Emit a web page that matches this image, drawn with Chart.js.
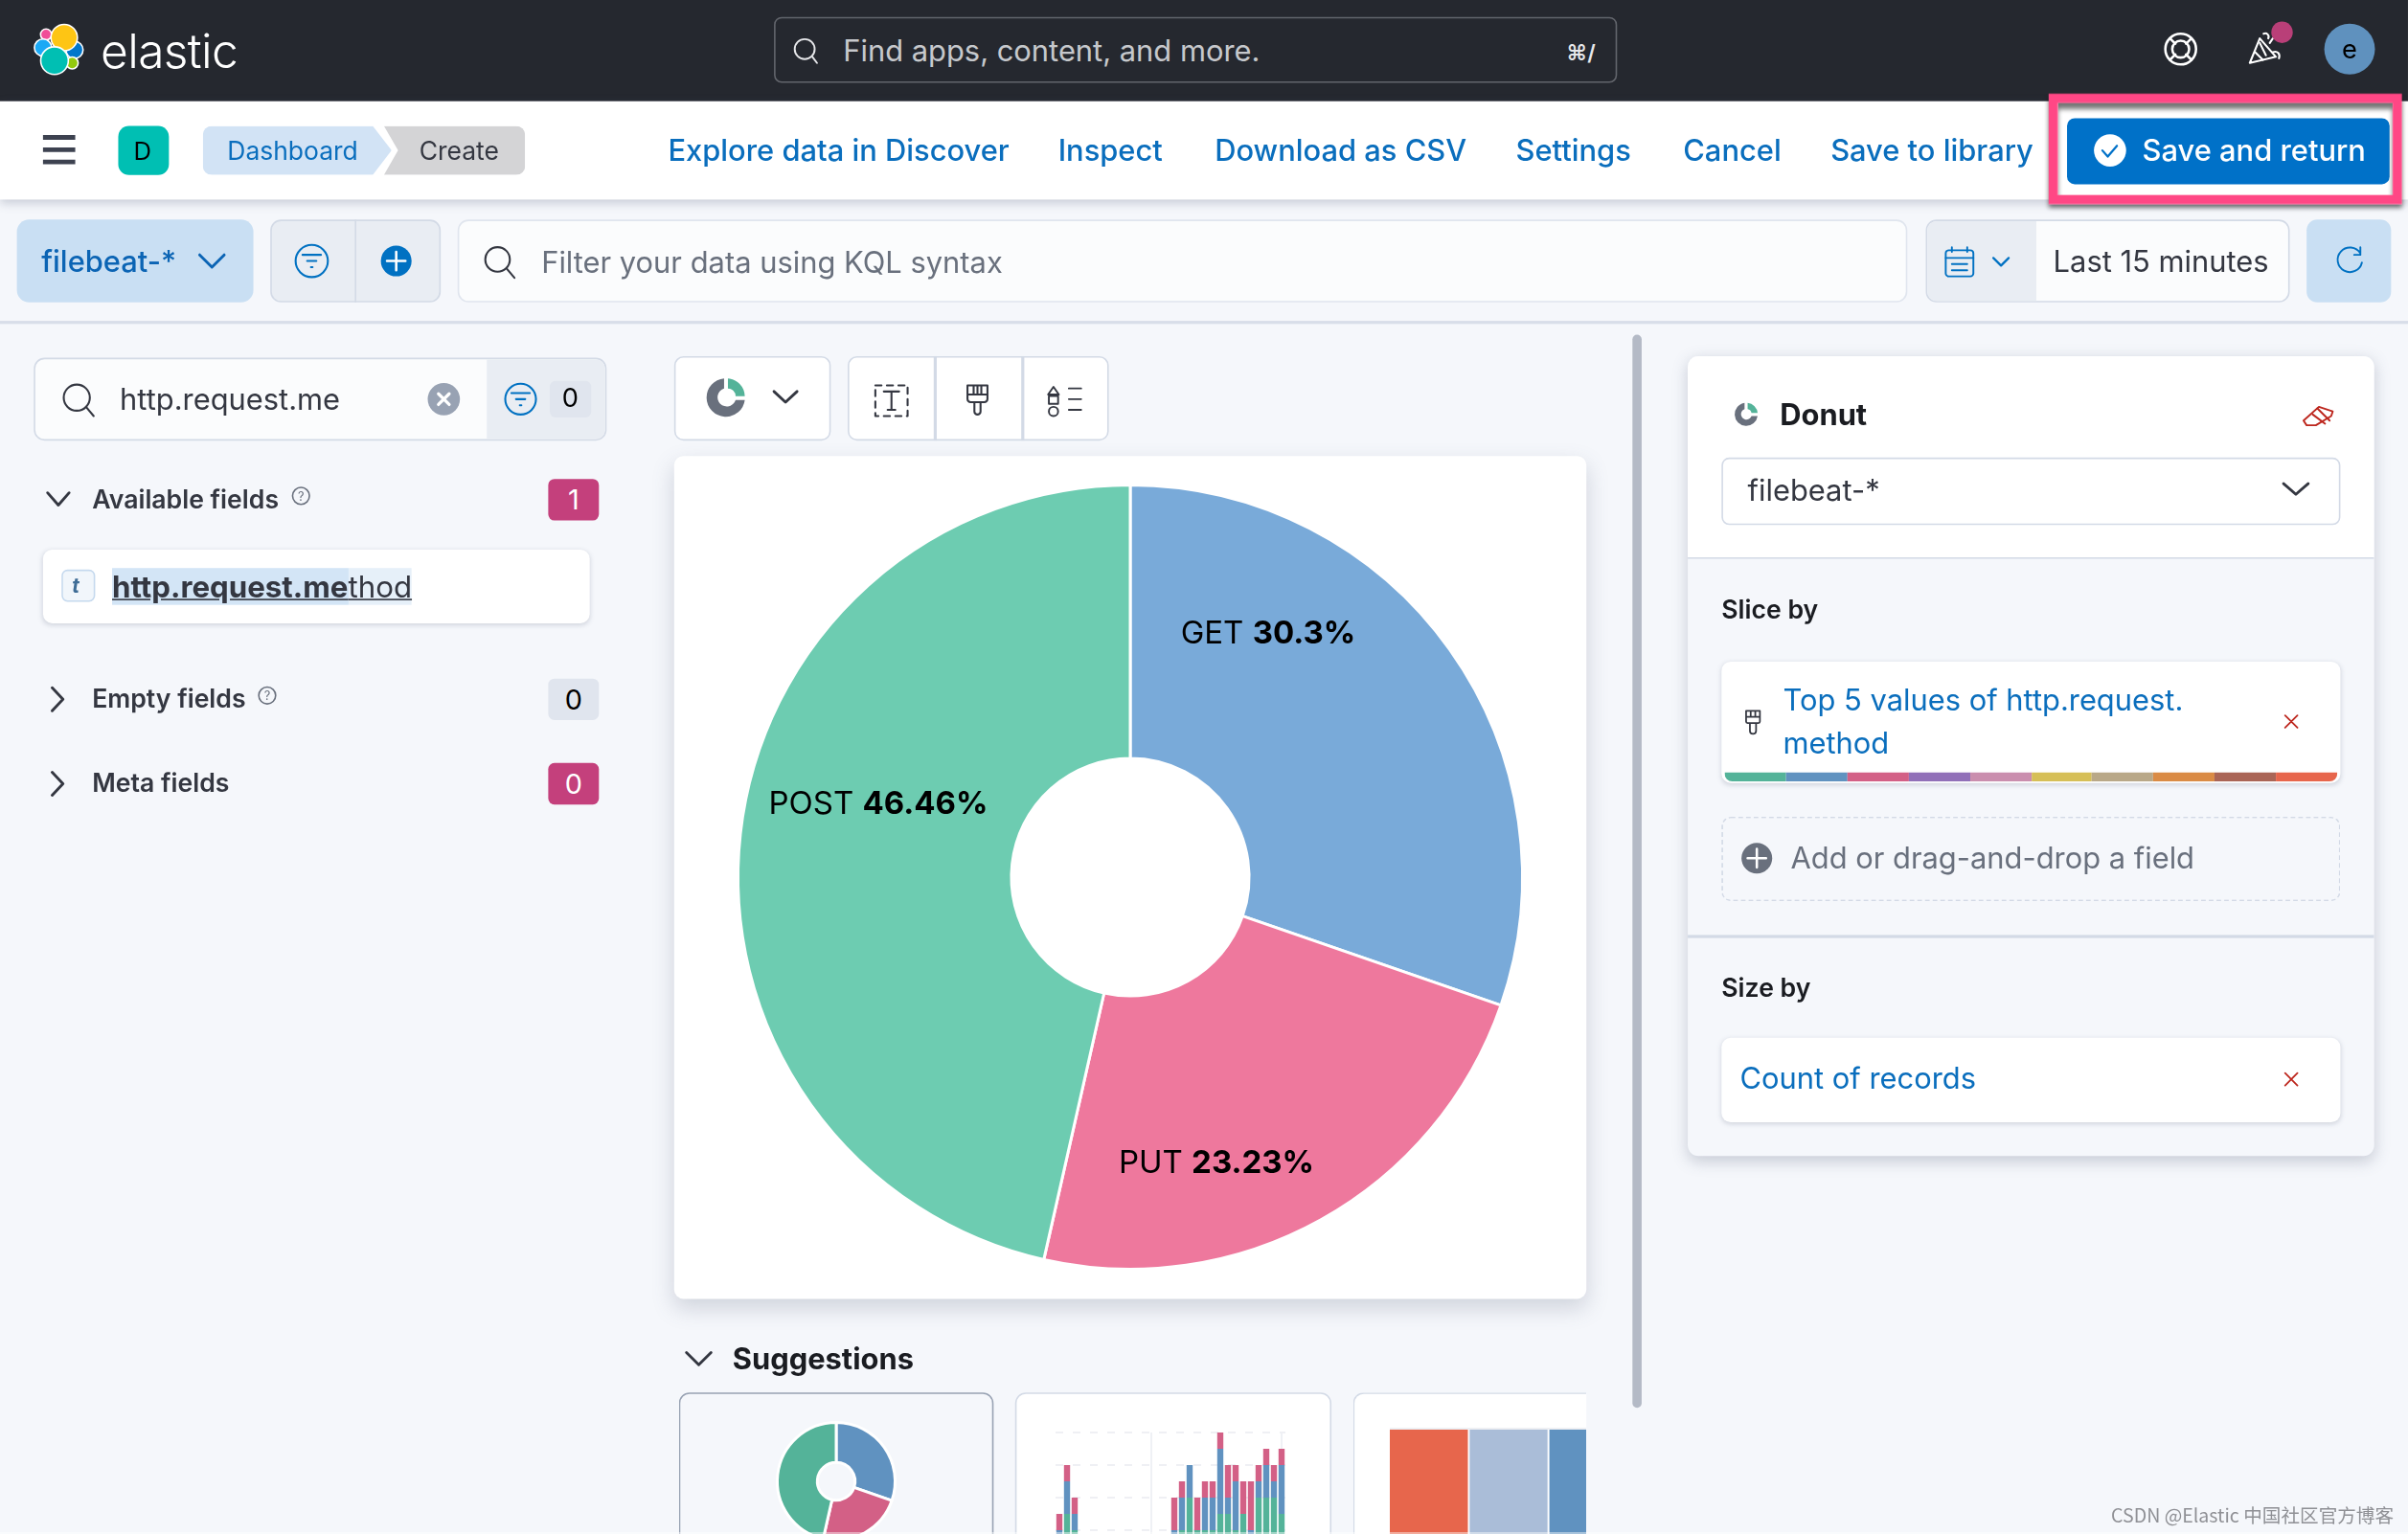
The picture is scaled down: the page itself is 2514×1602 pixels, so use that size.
<!DOCTYPE html>
<html>
<head>
<meta charset="utf-8">
<title>Lens donut</title>
<script src="https://cdn.jsdelivr.net/npm/chart.js@4/dist/chart.umd.min.js"></script>
<style>
html,body{margin:0;padding:0;width:2514px;height:1602px;overflow:hidden;background:#f5f7fb;font-family:Inter,sans-serif}
#ui{position:absolute;left:0;top:0;width:1568px;height:1000px;transform:scale(1.6033);transform-origin:0 0;color:#343741}
#ui div{position:absolute;box-sizing:border-box}
.t{white-space:nowrap;transform:translateY(-50%);font-size:19.25px}
.link{color:#0a6ebd}
.sub{font-size:16.6px;font-weight:600}
.badge{border-radius:4px;text-align:center;font-size:18px;line-height:27px;width:33px;height:27px;left:357px}
.pink{background:#c4407c;color:#fff}
.card{background:#fff;border-radius:6px;box-shadow:0 1px 3px rgba(80,90,120,.22)}
.frame{border:1.5px solid #d3dae6;border-radius:6px}
#icons{position:absolute;left:0;top:0}
#charts{position:absolute;left:0;top:0;width:2514px;height:1602px;overflow:hidden}
#charts div{position:absolute;overflow:hidden}
</style>
</head>
<body>
<div id="ui">
  <div style="left:0;top:0;width:1568px;height:66px;background:#25282f"></div>
  <div style="left:0;top:66px;width:1568px;height:64px;background:#fff;box-shadow:0 2px 6px rgba(90,100,130,.3)"></div>
  <div style="left:0;top:209px;width:1568px;height:1.5px;background:#d8dee9"></div>

  <div class="t" style="left:65.500px;top:33px;font-size:31px;font-weight:300;color:#fff;letter-spacing:-.4px">elastic</div>
  <div style="left:504px;top:11px;width:549px;height:43px;border:1.5px solid #62656c;border-radius:5px"></div>
  <div class="t" style="left:549px;top:33px;color:#c6c8cc">Find apps, content, and more.</div>
  <div class="t" style="left:1020px;top:34px;font-size:14px;font-weight:600;color:#e6e7ea">⌘/</div>

  <div style="left:77px;top:82px;width:33px;height:32px;background:#00bfb3;border-radius:7px"></div>
  <div class="t" style="left:87px;top:98px;font-size:16px;color:#000">D</div>
  <div style="left:132px;top:82px;width:123px;height:32px;background:#d2e3f5;border-radius:6px 0 0 6px;clip-path:polygon(0 0,90% 0,100% 50%,90% 100%,0 100%)"></div>
  <div style="left:250px;top:82px;width:92px;height:32px;background:#d4d4d6;border-radius:0 6px 6px 0;clip-path:polygon(0 0,100% 0,100% 100%,0 100%,10% 50%)"></div>
  <div class="t link" style="left:148px;top:98px;font-size:16.5px">Dashboard</div>
  <div class="t" style="left:273px;top:98px;font-size:16.5px">Create</div>
  <div class="t link" style="left:435px;top:98px;font-weight:500">Explore data in Discover</div>
  <div class="t link" style="left:689px;top:98px;font-weight:500">Inspect</div>
  <div class="t link" style="left:791px;top:98px;font-weight:500">Download as CSV</div>
  <div class="t link" style="left:987px;top:98px;font-weight:500">Settings</div>
  <div class="t link" style="left:1096px;top:98px;font-weight:500">Cancel</div>
  <div class="t link" style="left:1192px;top:98px;font-weight:500">Save to library</div>
  <div style="left:1346px;top:77px;width:210px;height:43px;background:#0071c8;border-radius:5px"></div>
  <div class="t" style="left:1395px;top:98px;color:#fff;font-weight:500">Save and return</div>
  <div style="left:1334px;top:61px;width:230px;height:72px;border:6px solid #ff4785;box-shadow:0 3px 3px rgba(0,0,0,.55),inset 0 4px 3px rgba(0,0,0,.55)"></div>

  <div style="left:11px;top:143px;width:154px;height:54px;background:#c9dff3;border-radius:8px"></div>
  <div class="t link" style="left:27px;top:170px;color:#0b64b4;font-weight:500">filebeat-*</div>
  <div style="left:176px;top:143px;width:111px;height:54px;background:#e9edf3;border:1px solid #d3dae6;border-radius:7px"></div>
  <div style="left:231px;top:143px;width:1px;height:54px;background:#d3dae6"></div>
  <div style="left:298px;top:143px;width:944px;height:54px;background:#fbfcfd;border:1.5px solid #e0e5ee;border-radius:7px"></div>
  <div class="t" style="left:352.500px;top:171px;color:#69707d">Filter your data using KQL syntax</div>
  <div style="left:1254px;top:143px;width:237px;height:54px;background:#fbfcfd;border:1.5px solid #d3dae6;border-radius:7px;overflow:hidden"><div style="left:0;top:0;width:71px;height:54px;background:#e9edf3"></div></div>
  <div class="t" style="left:1337px;top:170px">Last 15 minutes</div>
  <div style="left:1502px;top:143px;width:55px;height:54px;background:#c9dff3;border-radius:7px"></div>

  <div style="left:22px;top:233px;width:373px;height:54px;background:#fbfcfd;border:1.5px solid #d3dae6;border-radius:7px;overflow:hidden"><div style="left:294px;top:0;width:80px;height:54px;background:#e9edf3"></div></div>
  <div class="t" style="left:78px;top:260px">http.request.me</div>
  <div style="left:358px;top:248px;width:27px;height:24px;background:#e0e5ee;border-radius:4px"></div>
  <div class="t" style="left:366px;top:259px;font-size:17px;color:#000">0</div>
  <div class="t sub" style="left:60px;top:325px">Available fields</div>
  <div class="badge pink" style="top:312px">1</div>
  <div class="card" style="left:28px;top:358px;width:356px;height:48px"></div>
  <div style="left:40px;top:371px;width:22px;height:21px;background:#f1f6fb;border:1.5px solid #c5d9ee;border-radius:4px"></div>
  <div class="t" style="left:47px;top:381px;font-size:13px;font-weight:700;font-style:italic;color:#3f6d96">t</div>
  <div class="t" style="left:73px;top:382px;font-size:19.5px;text-decoration:underline"><span style="background:#d3e5f6;font-weight:700">http.request.me</span><span style="background:#e6f0f9">thod</span></div>
  <div class="t sub" style="left:60px;top:455px">Empty fields</div>
  <div class="badge" style="top:442px;background:#e0e5ee;color:#000">0</div>
  <div class="t sub" style="left:60px;top:510px">Meta fields</div>
  <div class="badge pink" style="top:497px">0</div>

  <div style="left:1063px;top:218px;width:6px;height:699px;background:#b4bac6;border-radius:3px"></div>
  <div class="frame" style="left:439px;top:232px;width:102px;height:55px;background:#fff"></div>
  <div class="frame" style="left:552px;top:232px;width:170px;height:55px;background:#fff"></div>
  <div style="left:608px;top:232px;width:1.5px;height:55px;background:#d3dae6"></div>
  <div style="left:665px;top:232px;width:1.5px;height:55px;background:#d3dae6"></div>
  <div class="card" style="left:439px;top:297px;width:594px;height:549px;box-shadow:0 6px 14px rgba(80,90,120,.22)"></div>
  <div class="t" style="left:477px;top:885px;font-weight:700;color:#1a1c21">Suggestions</div>
  <div style="left:442px;top:907px;width:205px;height:120px;background:#f5f7fb;border:1.5px solid #98a2b3;border-radius:7px"></div>
  <div style="left:661px;top:907px;width:206px;height:120px;background:#fff;border:1.5px solid #d3dae6;border-radius:7px"></div>
  <div style="left:881px;top:907px;width:152px;height:120px;background:#fff;border:1.5px solid #d3dae6;border-right:0;border-radius:7px 0 0 0"></div>

  <div style="left:1099px;top:232px;width:447px;height:521px;background:#f5f7fb;border-radius:7px;box-shadow:0 3px 10px rgba(80,90,120,.28);overflow:hidden">
    <div style="left:0;top:0;width:447px;height:132px;background:#fff;border-bottom:1.5px solid #d3dae6"></div>
    <div style="left:0;top:377px;width:447px;height:1.5px;background:#d3dae6"></div>
  </div>
  <div class="t" style="left:1159px;top:270px;font-weight:700;color:#1a1c21">Donut</div>
  <div class="frame" style="left:1121px;top:298px;width:403px;height:44px;background:#fff;border-radius:5px"></div>
  <div class="t" style="left:1138px;top:319px">filebeat-*</div>
  <div class="t sub" style="left:1121px;top:397px;color:#1a1c21">Slice by</div>
  <div class="card" style="left:1121px;top:431px;width:403px;height:79px;overflow:hidden"></div>
  <div id="palette" style="left:1123px;top:503px;width:399px;height:6px;display:flex;border-radius:0 0 5px 5px;overflow:hidden"></div>
  <div class="t link" style="left:1161px;top:456px">Top 5 values of http.request.</div>
  <div class="t link" style="left:1161px;top:484px">method</div>
  <div style="left:1121px;top:532px;width:403px;height:55px;border:1.5px dashed #d3dae6;border-radius:6px"></div>
  <div class="t" style="left:1166px;top:559px;color:#69707d">Add or drag-and-drop a field</div>
  <div class="t sub" style="left:1121px;top:643px;color:#1a1c21">Size by</div>
  <div class="card" style="left:1121px;top:676px;width:403px;height:55px"></div>
  <div class="t link" style="left:1133px;top:702px">Count of records</div>

  <svg id="icons" width="1568" height="1000" viewBox="0 0 1568 1000" fill="none" stroke-linecap="round" stroke-linejoin="round">
    <!-- logo -->
    <g stroke="#fff" stroke-width="1">
      <circle cx="30" cy="22.5" r="3.6" fill="#f04e98"/>
      <circle cx="28" cy="31" r="5.6" fill="#1ba9f5"/>
      <circle cx="48.5" cy="32.5" r="5.6" fill="#0077cc"/>
      <circle cx="47" cy="41" r="3.9" fill="#93c90e"/>
      <circle cx="41.8" cy="24.5" r="8.6" fill="#fec514"/>
      <circle cx="35.5" cy="39.5" r="9" fill="#00bfb3"/>
    </g>
    <circle cx="524" cy="32" r="6.5" stroke="#e6e7ea" stroke-width="1.2"/><path d="M529 37l3 4" stroke="#e6e7ea" stroke-width="1.2"/>
    <!-- header icons -->
    <g stroke="#fff" stroke-width="1.6"><circle cx="1420" cy="32" r="10"/><circle cx="1420" cy="32" r="5.5"/><path d="M1413 25l3.500 3.500M1427 25l-3.500 3.500M1413 39l3.500-3.500M1427 39l-3.500-3.500"/></g>
    <g stroke="#fff" stroke-width="1.3"><path d="M1465 41l6.500-16 10.500 12z"/><path d="M1468.500 34l5 5M1471.500 28l4 8"/><path d="M1474 22c2-1 4 1 3 3M1480 25l-2 3M1480 34c3-1 5 1 4 4"/></g>
    <circle cx="1486" cy="21" r="7" fill="#b93f78"/>
    <circle cx="1530" cy="32" r="16.5" fill="#5f91be"/>
    <text x="1530" y="38" font-size="17" font-family="Inter" fill="#000" text-anchor="middle">e</text>
    <!-- nav -->
    <path d="M28 89.5h21M28 97.5h21M28 105.5h21" stroke="#3d4250" stroke-width="3" stroke-linecap="butt"/>
    <circle cx="1374" cy="98" r="10.5" fill="#fff"/><path d="M1369 98l3.500 4 6-7" stroke="#0071c8" stroke-width="1.4"/>
    <!-- filter bar -->
    <path d="M130 166l8 8 8-8" stroke="#0b64b4" stroke-width="1.8"/>
    <g stroke="#0071c2" stroke-width="1.3"><circle cx="203" cy="170" r="10.5"/><path d="M197 166h12M200 170h6M202.500 174h1"/></g>
    <circle cx="258" cy="170" r="10" fill="#0071c2"/><path d="M258 164v12M252 170h12" stroke="#fff" stroke-width="1.6"/>
    <circle cx="324" cy="169" r="8" stroke="#343741" stroke-width="1.3"/><path d="M330 175l5 6" stroke="#343741" stroke-width="1.3"/>
    <g stroke="#0071c2" stroke-width="1.2"><rect x="1267" y="163" width="18" height="17" rx="2"/><path d="M1267 168h18M1271 161v3M1281 161v3M1271 172h10M1271 176h10" /></g>
    <path d="M1298 168l5 5 5-5" stroke="#0071c2" stroke-width="1.4"/>
    <path d="M1537 165a8 8 0 1 0 1 6M1537 161v5h-4" stroke="#0071c2" stroke-width="1.2"/>
    <!-- left panel -->
    <circle cx="50" cy="259" r="8.5" stroke="#343741" stroke-width="1.3"/><path d="M56 265l5 6" stroke="#343741" stroke-width="1.3"/>
    <circle cx="289" cy="260" r="10.5" fill="#98a2b3"/><path d="M285.500 256.500l7 7M292.500 256.500l-7 7" stroke="#fff" stroke-width="2"/>
    <g stroke="#0071c2" stroke-width="1.3"><circle cx="339" cy="260" r="10"/><path d="M333 256h12M336 260h6M338.500 264h1"/></g>
    <path d="M31 321l7 8 7-8" stroke="#343741" stroke-width="1.8"/>
    <path d="M34 448l7 7.500-7 7.500M34 503l7 7.500-7 7.500" stroke="#343741" stroke-width="1.8"/>
    <g stroke="#69707d" stroke-width="1"><circle cx="196" cy="323" r="5.500"/><circle cx="174" cy="453" r="5.500"/></g>
    <text x="196" y="326" font-size="8" fill="#69707d" text-anchor="middle">?</text>
    <text x="174" y="456" font-size="8" fill="#69707d" text-anchor="middle">?</text>
    <!-- toolbar -->
    <g transform="translate(473,259)"><path d="M-1.500-12.500a12.500 12.500 0 1 0 13.500 14h-6a6 6 0 1 1-7.500-7.500z" fill="#69707d"/><path d="M1-12.500a12 12 0 0 1 11 11.500h-6a5 5 0 0 0-5-5z" fill="#54b399"/></g>
    <path d="M504 255l7.500 7 7.500-7" stroke="#343741" stroke-width="1.800"/>
    <g stroke="#343741" stroke-width="1.300"><rect x="570" y="251" width="21" height="20" stroke-dasharray="4 3.500"/><path d="M575.500 255h10M580.500 255v12M578 267h5"/></g>
    <g stroke="#343741" stroke-width="1.300"><path d="M630 251h13v9a2 2 0 0 1-2 2h-9a2 2 0 0 1-2-2zM630 257h13M634 251v6M636.500 251v6M639 251v6M634.500 262v6a2 2 0 0 0 4 0v-6"/></g>
    <g stroke="#343741" stroke-width="1.200"><path d="M686 252l3.500 5h-7zM696 253h8M696 260h8M696 267h8"/><rect x="683" y="258" width="6" height="5"/><circle cx="686" cy="268" r="3"/></g>
    <path d="M447 881l8 8 8-8" stroke="#343741" stroke-width="1.800"/>
    <!-- right panel -->
    <g transform="translate(1137,270)"><path d="M-1-7.500a7.500 7.500 0 1 0 8.500 8.500h-4a3.500 3.500 0 1 1-4.500-4.500z" fill="#69707d"/><path d="M1-7.500a7 7 0 0 1 6.500 6.500h-4a3 3 0 0 0-2.500-2.500z" fill="#54b399"/></g>
    <g stroke="#bd271e" stroke-width="1.200"><path d="M1500 274l10-9 9 3-1 3-10 6h-6z"/><path d="M1509 266l8 8M1506 270l8 6"/></g>
    <path d="M1487 315l8 7 8-7" stroke="#343741" stroke-width="1.800"/>
    <g stroke="#343741" stroke-width="1.100"><path d="M1137 463h9v7a1 1 0 0 1-1 1h-7a1 1 0 0 1-1-1zM1137 467h9M1140 463v4M1143 463v4M1139.500 471v5a1.800 1.800 0 0 0 4 0v-5"/></g>
    <path d="M1488 466l8 8M1496 466l-8 8M1488 699l8 8M1496 699l-8 8" stroke="#bd271e" stroke-width="1.100"/>
    <circle cx="1144" cy="559" r="10" fill="#69707d"/><path d="M1144 553v12M1138 559h12" stroke="#fff" stroke-width="1.600"/>
  </svg>
</div>

<div id="charts">
  <div style="left:704px;top:476px;width:952px;height:880px"><canvas id="mainDonut"></canvas></div>
  <div style="left:801px;top:1475px;width:144px;height:127px"><canvas id="miniDonut"></canvas></div>
  <div style="left:1098px;top:1492px;width:248px;height:110px"><canvas id="miniBars"></canvas></div>
  <div style="left:1451px;top:1491px;width:205px;height:111px;border-top:2px solid #eeeff3"><canvas id="miniTree"></canvas></div>
  <div style="left:0;top:1600px;width:2514px;height:2px;background:rgba(255,255,255,.45)"></div>
</div>
<div style="position:absolute;left:2204px;top:1567px;font:19.600px 'Noto Sans CJK SC',sans-serif;color:#8f9095;white-space:nowrap">CSDN @Elastic 中国社区官方博客</div>

<script>
Chart.defaults.animation = false;
Chart.defaults.responsive = false;
Chart.defaults.devicePixelRatio = 1;
Chart.defaults.plugins.legend.display = false;
Chart.defaults.plugins.tooltip.enabled = false;

// 饼图数据
const methods = ['GET', 'PUT', 'POST'];
const shares = [30.3, 23.23, 46.46];
const mainColors = ['#79aad9', '#ee789d', '#6dccb1'];
const miniColors = ['#6092c0', '#d36086', '#54b399'];

// 建议区柱状图（30个时间桶）
const buckets = ['b0','b1','b2','b3','b4','b5','b6','b7','b8','b9','b10','b11','b12','b13','b14','b15','b16','b17','b18','b19','b20','b21','b22','b23','b24','b25','b26','b27','b28','b29'];
const postCounts = [0,3,2,0,0,0,0,0,0,0,0,0,0,0,0,0,2,4,2,2,2,3,3,2,3,0,4,4,4,3];
const getCounts  = [2,2,1,0,0,0,0,0,0,0,0,0,0,0,0,2,2,2,0,2,2,4,1,3,0,2,1,2,1,3];
const putCounts  = [1,1,1,0,0,0,0,0,0,0,0,0,0,0,0,2,1,0,2,1,1,1,2,1,2,3,1,1,1,1];

// 建议区矩形图
const treeValues = [33, 33, 34];
const treeColors = ['#e7664c', '#aabdd8', '#6092c0'];

// 色板
const paletteColors = ['#54b399','#6092c0','#d36086','#9170b8','#ca8eae','#d6bf57','#b9a888','#da8b45','#aa6556','#e7664c'];

paletteColors.forEach(function(c) {
  const seg = document.createElement('span');
  seg.style.cssText = 'flex:1;background:' + c;
  document.getElementById('palette').appendChild(seg);
});

// 标签相对圆心的偏移（样式，不是数据）
const labelOffsets = [[144, -254], [90, 299], [-263, -76]];

const sliceLabels = {
  id: 'sliceLabels',
  afterDraw(chart) {
    const ctx = chart.ctx;
    const arc = chart.getDatasetMeta(0).data[0];
    methods.forEach(function(name, i) {
      const head = name + ' ';
      const pct = shares[i] + '%';
      ctx.textBaseline = 'middle';
      ctx.textAlign = 'left';
      ctx.fillStyle = '#000';
      ctx.font = '33px Inter';
      const w1 = ctx.measureText(head).width;
      ctx.font = '700 33px Inter';
      const w2 = ctx.measureText(pct).width;
      const x = arc.x + labelOffsets[i][0] - (w1 + w2) / 2;
      const y = arc.y + labelOffsets[i][1];
      ctx.font = '33px Inter';
      ctx.fillText(head, x, y);
      ctx.font = '700 33px Inter';
      ctx.fillText(pct, x + w1, y);
    });
  }
};

function setSize(id, w, h) {
  const c = document.getElementById(id);
  c.width = w; c.height = h;
  c.style.width = w + 'px'; c.style.height = h + 'px';
  return c;
}

new Chart(setSize('mainDonut', 952, 880), {
  type: 'doughnut',
  data: { labels: methods, datasets: [{ data: shares, backgroundColor: mainColors, borderColor: '#fff', borderWidth: 3 }] },
  options: { cutout: '30.3%', layout: { padding: 29 } },
  plugins: [sliceLabels]
});

new Chart(setSize('miniDonut', 144, 144), {
  type: 'doughnut',
  data: { labels: methods, datasets: [{ data: shares, backgroundColor: miniColors, borderColor: '#fff', borderWidth: 3 }] },
  options: { cutout: '32%', layout: { padding: 9 } }
});

new Chart(setSize('miniBars', 248, 144), {
  type: 'bar',
  data: {
    labels: buckets,
    datasets: [
      { data: postCounts, backgroundColor: miniColors[2] },
      { data: getCounts, backgroundColor: miniColors[0] },
      { data: putCounts, backgroundColor: miniColors[1] }
    ]
  },
  options: {
    layout: { padding: 4 },
    barPercentage: 0.8,
    categoryPercentage: 1,
    scales: {
      x: {
        stacked: true,
        ticks: { display: false, autoSkip: false },
        border: { display: false },
        grid: {
          offset: false, drawTicks: false, lineWidth: 2,
          color: function(c) { return (c.index === 12 || c.index === 29) ? '#eff1f5' : 'transparent'; }
        }
      },
      y: {
        stacked: true, min: 0, max: 8,
        ticks: { display: false, stepSize: 2 },
        border: { display: false, dash: [8, 10] },
        grid: { drawTicks: false, lineWidth: 2, color: '#eff0f4' }
      }
    }
  }
});

new Chart(setSize('miniTree', 252, 160), {
  type: 'bar',
  data: {
    labels: ['all'],
    datasets: treeValues.map(function(v, i) {
      return { data: [v], backgroundColor: treeColors[i], borderColor: '#fff', borderWidth: { right: 2 }, borderSkipped: false };
    })
  },
  options: {
    indexAxis: 'y',
    barPercentage: 1,
    categoryPercentage: 1,
    scales: {
      x: { stacked: true, display: false, min: 0, max: 100 },
      y: { stacked: true, display: false }
    }
  }
});
</script>
</body>
</html>
